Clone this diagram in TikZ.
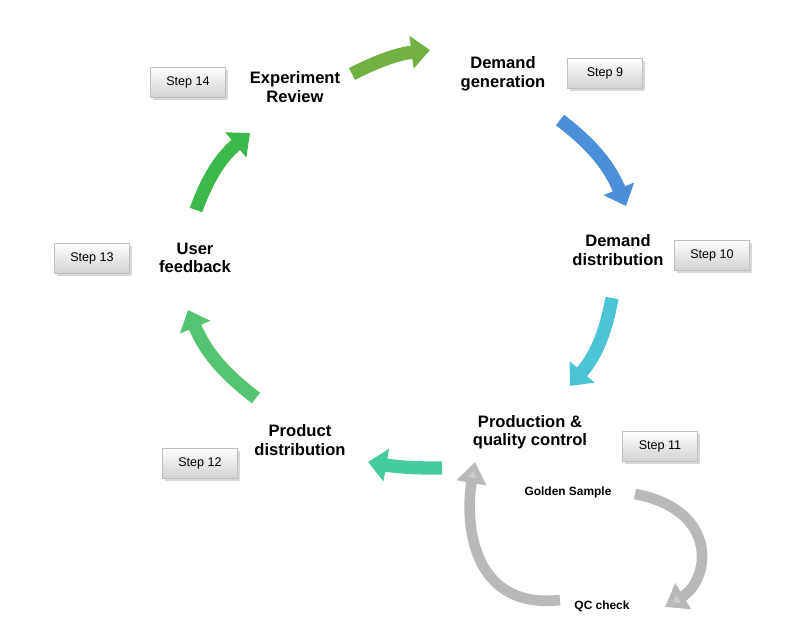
\documentclass[tikz,border=0pt]{standalone}
\usepackage{fontspec}
\setmainfont{Liberation Sans}
\usetikzlibrary{arrows.meta,shadows}
\definecolor{olivegreen}{HTML}{72B043}
\definecolor{bluearr}{HTML}{4A8FD8}
\definecolor{cyanarr}{HTML}{4CC3D6}
\definecolor{tealarr}{HTML}{45CBA0}
\definecolor{greenarr}{HTML}{55C470}
\definecolor{darkgreen}{HTML}{3DB84A}
\tikzset{
  phase/.style={font=\fontsize{12.5}{14}\selectfont\bfseries, align=center},
  stepbox/.style={draw=gray!50, top color=white, bottom color=gray!35, minimum width=2cm,
    minimum height=0.8cm, font=\fontsize{9.5}{11}\selectfont,
    drop shadow={shadow xshift=2pt, shadow yshift=-2pt, fill=gray!60}},
  flow/.style={line width=10pt, -{Triangle[length=14pt, width=24pt]}},
  loop/.style={line width=8pt, draw=gray!55, -{Triangle[length=16pt, width=22pt, fill=gray!40]}},
  small/.style={font=\fontsize{9}{10}\selectfont\bfseries}
}
\begin{document}
\begin{tikzpicture}[x=0.0265cm, y=-0.0265cm]
\useasboundingbox (0,0) rectangle (797,627);

% phases
\node[phase] (gen) at (503,74) {Demand\\generation};
\node[phase] (dist) at (618,250) {Demand\\distribution};
\node[phase] (prod) at (530,432) {Production \&\\quality control};
\node[phase] (pdist) at (300,440) {Product\\distribution};
\node[phase] (user) at (195,258) {User\\feedback};
\node[phase] (review) at (295,87) {Experiment\\Review};

% steps
\node[stepbox] (s9) at (605,73) {Step 9};
\node[stepbox] (s10) at (712,255) {Step 10};
\node[stepbox] (s11) at (660,446) {Step 11};
\node[stepbox] (s12) at (200,463) {Step 12};
\node[stepbox] (s13) at (92,258) {Step 13};
\node[stepbox] (s14) at (188,82) {Step 14};

% arrow ends
\coordinate (a1) at (352,74);  \coordinate (b1) at (430,50);
\coordinate (a2) at (560,120); \coordinate (b2) at (626,206);
\coordinate (a3) at (612,298); \coordinate (b3) at (570,386);
\coordinate (a4) at (442,468); \coordinate (b4) at (368,462);
\coordinate (a5) at (256,398); \coordinate (b5) at (188,310);
\coordinate (a6) at (196,210); \coordinate (b6) at (250,133);

\draw[flow, olivegreen] (a1) to[bend left=10] (b1);
\draw[flow, bluearr] (a2) to[bend left=15] (b2);
\draw[flow, cyanarr] (a3) to[bend left=15] (b3);
\draw[flow, tealarr] (a4) to[bend left=5] (b4);
\draw[flow, greenarr] (a5) to[bend left=15] (b5);
\draw[flow, darkgreen] (a6) to[bend left=15] (b6);

% QC loop
\node[small] (golden) at (568,492) {Golden Sample};
\node[small] (qc) at (602,606) {QC check};
\coordinate (g1) at (635,494); \coordinate (g2) at (665,607);
\coordinate (q1) at (560,600); \coordinate (q2) at (475,462);
\draw[loop] (g1) .. controls (720,510) and (710,580) .. (g2);
\draw[loop] (q1) .. controls (470,610) and (465,520) .. (q2);
\end{tikzpicture}
\end{document}
